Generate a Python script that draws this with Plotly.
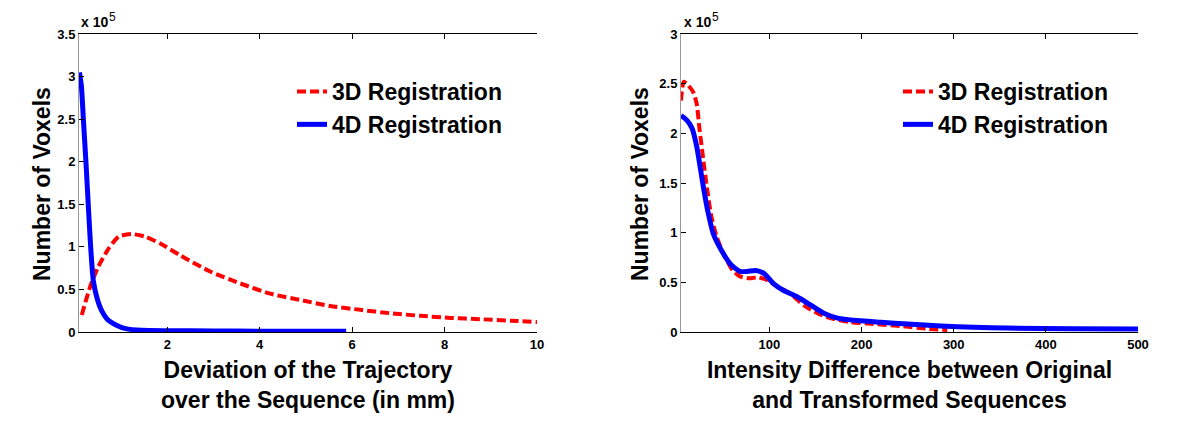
import plotly.graph_objects as go

# ---------------- data (voxel counts in units of 10^5) ----------------
left_x_3d = [0.15, 0.33, 0.51, 0.73, 0.95, 1.23, 1.52, 1.88, 2.28, 2.93, 3.58, 4.23,
             4.88, 5.53, 6.18, 6.83, 7.48, 8.13, 8.78, 9.43, 10.0]
left_y_3d = [0.20, 0.53, 0.77, 0.98, 1.12, 1.15, 1.12, 1.03, 0.90, 0.71, 0.57, 0.45,
             0.376, 0.305, 0.26, 0.22, 0.19, 0.165, 0.15, 0.133, 0.117]

left_x_4d = [0.1, 0.14, 0.19, 0.245, 0.295, 0.34, 0.40, 0.48, 0.58, 0.7, 0.9, 1.1,
             1.45, 2.0, 3.0, 4.0, 5.0, 5.87]
left_y_4d = [3.05, 2.9, 2.45, 1.95, 1.45, 1.02, 0.60, 0.40, 0.25, 0.15, 0.08, 0.04,
             0.02, 0.015, 0.012, 0.01, 0.01, 0.01]

right_x_3d = [4, 7, 12, 17, 21, 24, 28, 32, 37, 43, 51, 60, 68, 78, 88, 98, 108, 122,
              137, 152, 166, 188, 213, 242, 271, 293]
right_y_3d = [2.33, 2.52, 2.48, 2.42, 2.30, 2.05, 1.75, 1.46, 1.16, 0.95, 0.77, 0.62,
              0.56, 0.54, 0.55, 0.52, 0.46, 0.39, 0.27, 0.19, 0.14, 0.10, 0.08, 0.06,
              0.033, 0.02]

right_x_4d = [4, 10.5, 16, 21, 25, 29, 33, 39, 48, 58, 68, 76, 85, 94, 104, 115, 130,
              145, 159, 174, 195, 221, 250, 286, 322, 358, 431, 500]
right_y_4d = [2.18, 2.13, 2.05, 1.87, 1.65, 1.42, 1.22, 0.99, 0.82, 0.68, 0.61, 0.61,
              0.62, 0.59, 0.49, 0.42, 0.355, 0.27, 0.19, 0.14, 0.115, 0.097, 0.08,
              0.06, 0.047, 0.04, 0.033, 0.03]

series_names = ["3D Registration", "4D Registration"]
left_xticks = [2, 4, 6, 8, 10]
left_yticks = [0, 0.5, 1, 1.5, 2, 2.5, 3, 3.5]
right_xticks = [100, 200, 300, 400, 500]
right_yticks = [0, 0.5, 1, 1.5, 2, 2.5, 3]
left_xtitle = "Deviation of the Trajectory<br>over the Sequence (in mm)"
right_xtitle = "Intensity Difference between Original<br>and Transformed Sequences"
ytitle = "Number of Voxels"
exp_base, exp_power = "x 10", "5"

# ---------------- styling / geometry ----------------
FONT = "Liberation Sans, Arial, sans-serif"
RED = "#ff0000"
BLUE = "#0000ff"
OFF = 8                      # page body margin
W, H = 1197 - 2 * OFF, 425 - 2 * OFF
ML, MT = 79 - OFF, 34 - OFF
MR = W - (1138 - OFF)
MB = H - (332 - OFF)
PW, PH = W - ML - MR, H - MT - MB


def px_x(p):
    return (p - OFF - ML) / PW


def px_y(p):
    return 1 - (p - OFF - MT) / PH


fig = go.Figure()

fig.add_trace(go.Scatter(x=left_x_3d, y=left_y_3d, name=series_names[0], mode="lines",
                         line=dict(color=RED, width=4, dash="9px,4px", shape="spline", smoothing=0.6),
                         xaxis="x", yaxis="y", legend="legend"))
fig.add_trace(go.Scatter(x=left_x_4d, y=left_y_4d, name=series_names[1], mode="lines",
                         line=dict(color=BLUE, width=5, shape="spline", smoothing=0.6),
                         xaxis="x", yaxis="y", legend="legend"))
fig.add_trace(go.Scatter(x=right_x_3d, y=right_y_3d, name=series_names[0], mode="lines",
                         line=dict(color=RED, width=4, dash="9px,4px", shape="spline", smoothing=0.6),
                         xaxis="x2", yaxis="y2", legend="legend2"))
fig.add_trace(go.Scatter(x=right_x_4d, y=right_y_4d, name=series_names[1], mode="lines",
                         line=dict(color=BLUE, width=5, shape="spline", smoothing=0.6),
                         xaxis="x2", yaxis="y2", legend="legend2"))

tickfont = dict(family=FONT, size=13, color="black", weight="bold")
titlefont = dict(family=FONT, size=23, color="black", weight="bold")

x1dom = [0, px_x(537)]
x2dom = [px_x(681), 1]

common_x = dict(showline=True, linecolor="black", linewidth=1, mirror="ticks",
                ticks="inside", ticklen=5, tickcolor="black", showgrid=False,
                zeroline=False, tickfont=tickfont, automargin=False)
common_y = dict(showline=True, linecolor="#9a9a9a", linewidth=1, mirror=False,
                ticks="inside", ticklen=5, tickcolor="black", showgrid=False,
                zeroline=False, tickfont=tickfont, automargin=False, domain=[0, 1])
overlay_y = dict(showline=True, linecolor="black", linewidth=1, side="right",
                 ticks="inside", ticklen=5, tickcolor="black", showgrid=False,
                 zeroline=False, showticklabels=False, automargin=False)

fig.update_layout(
    width=W, height=H,
    margin=dict(l=ML, r=MR, t=MT, b=MB, autoexpand=False),
    paper_bgcolor="white", plot_bgcolor="white",
    font=dict(family=FONT, color="black"),
    xaxis=dict(common_x, domain=x1dom, range=[0.09, 10], tickvals=left_xticks,
               ticktext=[str(v) for v in left_xticks], anchor="y",
               title=dict(text=left_xtitle, font=titlefont, standoff=11)),
    yaxis=dict(common_y, range=[0, 3.5], tickvals=left_yticks,
               ticktext=[f"{v:g}" for v in left_yticks], anchor="x"),
    yaxis3=dict(overlay_y, overlaying="y", anchor="x", range=[0, 3.5], tickvals=left_yticks),
    xaxis2=dict(common_x, domain=x2dom, range=[4, 500], tickvals=right_xticks,
                ticktext=[str(v) for v in right_xticks], anchor="y2",
                title=dict(text=right_xtitle, font=titlefont, standoff=11)),
    yaxis2=dict(common_y, range=[0, 3], tickvals=right_yticks,
                ticktext=[f"{v:g}" for v in right_yticks], anchor="x2"),
    yaxis4=dict(overlay_y, overlaying="y2", anchor="x2", range=[0, 3], tickvals=right_yticks),
    legend=dict(x=px_x(292), y=px_y(70), xanchor="left", yanchor="top",
                bgcolor="rgba(0,0,0,0)", font=dict(family=FONT, size=23, weight="bold"),
                itemwidth=30, tracegroupgap=0),
    legend2=dict(x=px_x(898), y=px_y(70), xanchor="left", yanchor="top",
                 bgcolor="rgba(0,0,0,0)", font=dict(family=FONT, size=23, weight="bold"),
                 itemwidth=30, tracegroupgap=0),
    showlegend=True,
)

# y-axis titles (rotated text)
for xc in (42, 640):
    fig.add_annotation(text=ytitle, xref="paper", yref="paper",
                       x=px_x(xc), y=px_y(184), xanchor="center", yanchor="middle",
                       textangle=-90, showarrow=False, font=titlefont)

# "x 10^5" exponent labels
for xpos in (79, 682):
    fig.add_annotation(text=exp_base, xref="paper", yref="paper",
                       x=px_x(xpos), y=px_y(32), xanchor="left", yanchor="bottom",
                       showarrow=False,
                       font=dict(family=FONT, size=14, color="black", weight="bold"))
    fig.add_annotation(text=exp_power, xref="paper", yref="paper",
                       x=px_x(xpos + 28), y=px_y(17), xanchor="left", yanchor="middle",
                       showarrow=False,
                       font=dict(family=FONT, size=12, color="black"))

fig.write_html("out.html")
